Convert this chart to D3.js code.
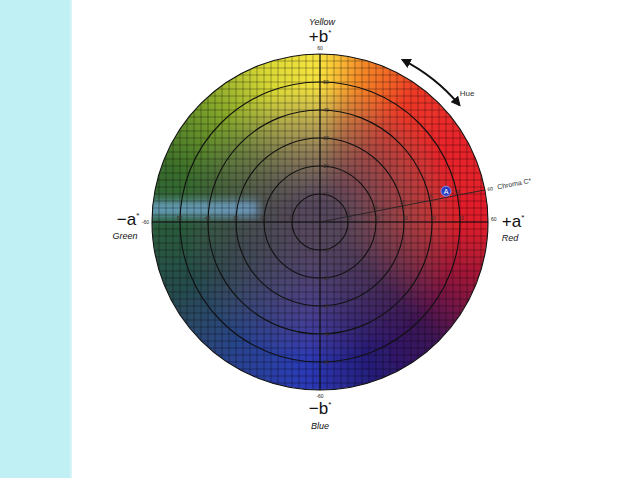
<!DOCTYPE html><html><head><meta charset="utf-8"><script src="https://cdn.jsdelivr.net/npm/d3@7"></script>
<style>body{margin:0;background:#fff}svg{display:block}</style></head><body><svg id="c" width="638" height="478"></svg>
<script>
const rings=[10,20,30,40,50,60];
const axisTicks=[10,20,30,40,50];
const endTicks=[60];
const chromaAngleDeg=[11];
const chromaTicks=[10,20,30,40,50];
const pointA=[{a:45,b:11,label:"A"}];
const axisLabels=[{t:"+b",n:"Yellow",dir:"top"},{t:"−b",n:"Blue",dir:"bottom"},{t:"−a",n:"Green",dir:"left"},{t:"+a",n:"Red",dir:"right"}];
// rim colour by hue angle (degrees) — styling anchors
const hueAngles=[0,30,55,75,90,110,135,160,180,205,235,265,290,315,340,360];
const hueColors=["#e01e2a","#e8222a","#ee3a28","#f48a28","#f8e440","#d8d834","#7aa02a","#3a6e2c","#2a5c3a","#264c4c","#28448a","#2a3ab8","#261c78","#3c1454","#a01838","#e01e2a"];
const centerColor="#54465c";

const svg=d3.select("#c");
svg.append("rect").attr("width",70).attr("height",478).attr("fill","#c0eff4");
svg.append("rect").attr("x",70).attr("width",2).attr("height",478).attr("fill","#d8f4f7");
const cx=320,cy=222,R=168;
const x=d3.scaleLinear().domain([-60,60]).range([cx-R,cx+R]);
const y=d3.scaleLinear().domain([-60,60]).range([cy+R,cy-R]);
const defs=svg.append("defs");
defs.append("clipPath").attr("id","cl").append("circle").attr("cx",cx).attr("cy",cy).attr("r",R);
defs.append("filter").attr("id","bl").append("feGaussianBlur").attr("stdDeviation",5);
defs.append("filter").attr("id","bl2").attr("x","-50%").attr("y","-200%").attr("width","200%").attr("height","500%").append("feGaussianBlur").attr("stdDeviation",5);
const g=svg.append("g").attr("clip-path","url(#cl)");
const hueScale=d3.scaleLinear().domain(hueAngles).range(hueColors).interpolate(d3.interpolateLab);
const cells=[];const st=2.5;
for(let a=-62.5;a<62.5;a+=st)for(let b=-62.5;b<62.5;b+=st)cells.push([a+st/2,b+st/2]);
function col(a,b){
  let h=Math.atan2(b,a)*180/Math.PI; if(h<0)h+=360;
  const r=Math.min(1,Math.hypot(a,b)/60);
  const t=Math.min(1,Math.pow(Math.max(0,(r-0.12)/0.7),1.1));
  return d3.interpolateLab(centerColor,hueScale(h))(t);
}
const cg=g.append("g").attr("filter","url(#bl)");
cg.selectAll("rect").data(cells).join("rect")
 .attr("x",d=>x(d[0]-st/2)-0.5).attr("y",d=>y(d[1]+st/2)-0.5)
 .attr("width",x(st)-x(0)+1).attr("height",x(st)-x(0)+1).attr("fill",d=>col(d[0],d[1]));
// light blue band at left
g.append("rect").attr("x",x(-64)).attr("y",y(7.5)).attr("width",x(-22)-x(-64)).attr("height",y(2)-y(7.5)).attr("fill","#7ab4e8").attr("opacity",0.75).attr("filter","url(#bl2)");
// fine grid
const gl=d3.range(-60,60.1,2.5);
g.selectAll(".v").data(gl).join("line").attr("x1",d=>x(d)).attr("x2",d=>x(d)).attr("y1",cy-R).attr("y2",cy+R).attr("stroke","#000").attr("stroke-opacity",0.45).attr("stroke-width",0.7);
g.selectAll(".h").data(gl).join("line").attr("y1",d=>y(d)).attr("y2",d=>y(d)).attr("x1",cx-R).attr("x2",cx+R).attr("stroke","#000").attr("stroke-opacity",0.45).attr("stroke-width",0.7);
// rings
svg.selectAll(".ring").data(rings).join("circle").attr("cx",cx).attr("cy",cy).attr("r",d=>x(d)-cx).attr("fill","none").attr("stroke","#111").attr("stroke-width",1.1);
// axes
svg.append("line").attr("x1",x(-60)).attr("x2",x(60)).attr("y1",cy).attr("y2",cy).attr("stroke","#111").attr("stroke-width",1.1);
svg.append("line").attr("y1",y(-60)).attr("y2",y(60)).attr("x1",cx).attr("x2",cx).attr("stroke","#111").attr("stroke-width",1.1);
function txt(s,xx,yy,size,opt={}){const t=svg.append("text").attr("x",xx).attr("y",yy).attr("font-size",size).attr("font-family","Liberation Sans, Arial, sans-serif").attr("text-anchor",opt.anchor||"middle").attr("fill",opt.fill||"#222").text(s);if(opt.italic)t.attr("font-style","italic");if(opt.rot!=null)t.attr("transform",`rotate(${opt.rot},${xx},${yy})`);return t;}
const tc="#3a3030";
axisTicks.forEach(v=>{
 txt(v,x(v)+1,cy-2,5,{fill:tc});txt(-v,x(-v)-1,cy-2,5,{fill:tc});
 txt(v,cx+6,y(v)+2,5,{fill:tc});txt(-v,cx+6,y(-v)+2,5,{fill:tc});
});
endTicks.forEach(v=>{
 txt(v,cx,y(v)-4,5);txt(-v,cx,y(-v)+8,5);txt(-v,x(-v)-3,cy+2,5,{anchor:"end"});txt(v,x(v)+3,cy-1,5,{anchor:"start"});
});
// chroma line
const ang=chromaAngleDeg[0]*Math.PI/180;
svg.append("line").attr("x1",cx).attr("y1",cy).attr("x2",cx+R*Math.cos(ang)).attr("y2",cy-R*Math.sin(ang)).attr("stroke","#222").attr("stroke-width",0.9);
chromaTicks.forEach(v=>{const r=x(v)-cx;txt(v,cx+r*Math.cos(ang),cy-r*Math.sin(ang)-2,5,{rot:-chromaAngleDeg[0],fill:tc});});
txt("60",cx+(R+3)*Math.cos(ang),cy-(R+3)*Math.sin(ang)+2,5,{anchor:"start",rot:-chromaAngleDeg[0]});
txt("Chroma C*",cx+(R+13)*Math.cos(ang),cy-(R+13)*Math.sin(ang)+2,7,{anchor:"start",rot:-chromaAngleDeg[0],fill:"#333"});
pointA.forEach(p=>{svg.append("circle").attr("cx",x(p.a)).attr("cy",y(p.b)).attr("r",5).attr("fill","#2a3fc0").attr("stroke","#8fa0ff").attr("stroke-width",0.8);
 txt(p.label,x(p.a),y(p.b)+2.5,7,{fill:"#fff"});});
// hue arrow
const hr=R+14;const a1=63*Math.PI/180,a2=40*Math.PI/180;
defs.append("marker").attr("id","ah").attr("viewBox","0 0 10 10").attr("refX",8).attr("refY",5).attr("markerWidth",5).attr("markerHeight",5).attr("orient","auto-start-reverse").append("path").attr("d","M0,0L10,5L0,10z").attr("fill","#111");
svg.append("path").attr("d",`M${cx+hr*Math.cos(a1)},${cy-hr*Math.sin(a1)} A${hr},${hr} 0 0 1 ${cx+hr*Math.cos(a2)},${cy-hr*Math.sin(a2)}`).attr("fill","none").attr("stroke","#111").attr("stroke-width",2).attr("marker-start","url(#ah)").attr("marker-end","url(#ah)");
txt("Hue",467,96,8,{fill:"#333"});
// axis labels
const pos={top:[320,42,322,25],bottom:[320,414,320,429],left:[128,225,125,239],right:[513,227,510,241]};
axisLabels.forEach(l=>{const p=pos[l.dir];const t=txt(l.t,p[0],p[1],17,{fill:"#111"});t.append("tspan").attr("dy",-7).attr("font-size",8).text("*");txt(l.n,p[2],p[3],9,{italic:true,fill:"#111"});});
</script></body></html>
